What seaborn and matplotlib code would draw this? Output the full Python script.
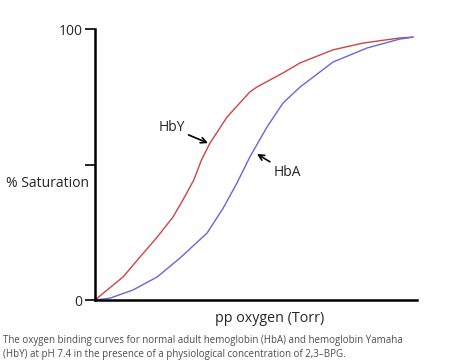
import numpy as np
import pandas as pd
import seaborn as sns
import matplotlib.pyplot as plt

# partial pressure of oxygen (arbitrary units, axis has no numbers)
pp_hby = [0, 8.7, 14.0, 19.3, 24.2, 27.3, 29.5, 30.7, 33.0, 35.7, 41.0, 48.1, 50.3,
          58.4, 63.7, 73.9, 83.2, 94.7, 98.8]
sat_hby = [0, 8.5, 15.9, 23.2, 30.6, 36.9, 41.7, 44.3, 51.5, 57.9, 67.5, 76.8, 78.6,
           83.8, 87.5, 92.3, 94.8, 96.7, 97.0]

pp_hba = [0, 4.7, 11.8, 19.3, 26.4, 34.8, 39.8, 44.1, 48.1, 53.4, 58.4, 63.7,
          73.9, 84.5, 94.7, 98.8]
sat_hba = [0, 0.7, 3.7, 8.5, 15.5, 24.7, 33.9, 43.2, 52.8, 63.8, 72.7, 78.6,
           87.8, 93.0, 96.3, 97.0]

hby = pd.DataFrame({'pp': pp_hby, 'sat': sat_hby})
hba = pd.DataFrame({'pp': pp_hba, 'sat': sat_hba})

sns.set_style('white')
plt.rcParams['font.family'] = ['Open Sans', 'DejaVu Sans']

fig = plt.figure(figsize=(4.49, 3.64), dpi=100)
ax = fig.add_axes([0.2116, 0.1758, 0.7171, 0.7445])

sns.lineplot(data=hby, x='pp', y='sat', color='#cc4444', lw=1.0, ax=ax)
sns.lineplot(data=hba, x='pp', y='sat', color='#6666dd', lw=1.0, ax=ax)

ax.set_xlim(0, 100)
ax.set_ylim(0, 100)
ax.set_yticks([0, 50, 100])
ax.set_yticklabels(['0', '', '100'], fontsize=10)
ax.set_xticks([])
ax.tick_params(axis='y', direction='out', length=7, width=1.2, color='black', pad=2, left=True)
sns.despine(ax=ax)
for s in ['left', 'bottom']:
    ax.spines[s].set_color('black')
    ax.spines[s].set_linewidth(1.8)

ax.set_xlabel('pp oxygen (Torr)', fontsize=10.3)
ax.xaxis.set_label_coords(0.542, -0.042, transform=ax.transAxes)
ax.xaxis.label.set_va('top')
ax.set_ylabel('')
ax.text(-0.02, 0.43, '% Saturation', transform=ax.transAxes, ha='right', va='center', fontsize=10)

ax.annotate('HbY', xy=(35.1, 57.9), xytext=(23.9, 63.5), fontsize=10, ha='center', va='center',
            arrowprops=dict(arrowstyle='->', color='black', lw=1.2, shrinkA=0, shrinkB=0))
ax.annotate('HbA', xy=(50.3, 53.9), xytext=(59.6, 47.2), fontsize=10, ha='center', va='center',
            arrowprops=dict(arrowstyle='->', color='black', lw=1.2, shrinkA=0, shrinkB=0))

fig.text(0.007, 0.045, 'The oxygen binding curves for normal adult hemoglobin (HbA) and hemoglobin Yamaha\n'
         '(HbY) at pH 7.4 in the presence of a physiological concentration of 2,3\u2013BPG.',
         fontsize=7.0, color='#4d4d4d', ha='left', va='center', linespacing=1.4)

fig.savefig('out.png', dpi=100)
